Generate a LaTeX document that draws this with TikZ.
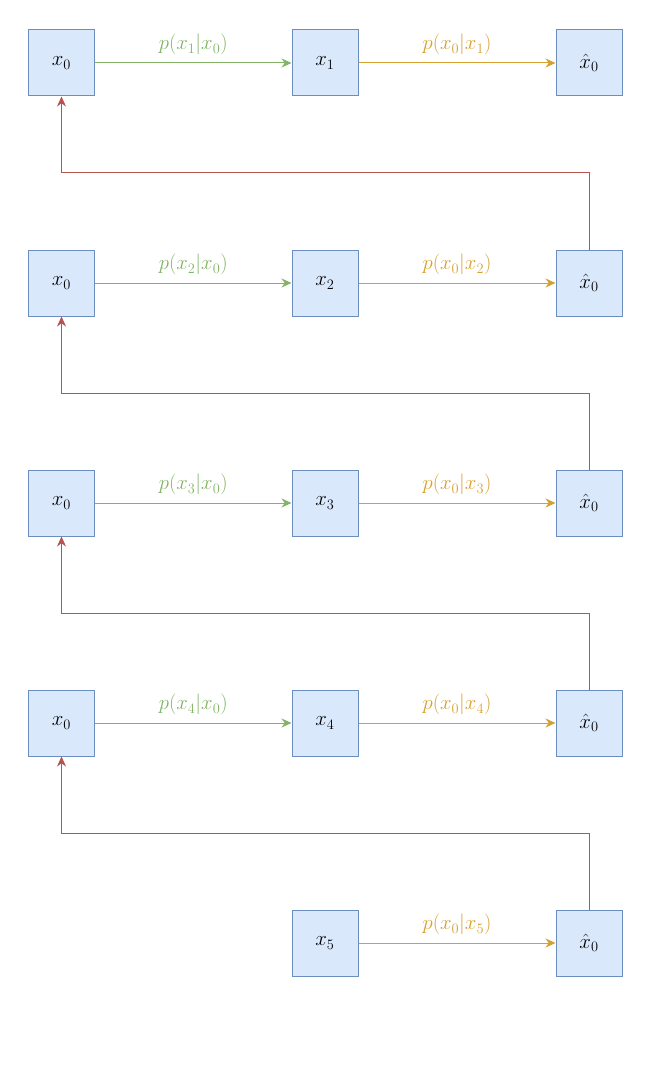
\documentclass[tikz,border=0pt]{standalone}
\usetikzlibrary{arrows.meta}
\definecolor{bfill}{HTML}{DAE8FC}
\definecolor{bdraw}{HTML}{6C8EBF}
\definecolor{gr}{HTML}{82B366}
\definecolor{yl}{HTML}{D6A030}
\definecolor{rd}{HTML}{B85450}
\begin{document}
\begin{tikzpicture}[x=1pt,y=-1pt,
 box/.style={draw=bdraw,fill=bfill,line width=1pt,minimum width=66pt,minimum height=66pt,inner sep=0pt,font=\fontsize{20}{24}\selectfont},
 arr/.style={line width=1pt,-{Stealth[length=10pt,width=9pt]}},
 lab/.style={font=\fontsize{20}{24}\selectfont,above=4pt}]
\useasboundingbox (0,0) rectangle (652,1086);
\foreach \i in {1,...,4}{
 \pgfmathsetmacro\yy{63+220*(\i-1)}
 \node[box] (a\i) at (61.5,\yy) {$x_0$};
 \node[box] (b\i) at (325,\yy) {$x_{\i}$};
 \node[box] (c\i) at (589,\yy) {$\hat{x}_0$};
 \draw[arr,gr] (a\i) -- node[lab,text=gr]{$p(x_{\i}|x_0)$} (b\i);
 \draw[arr,yl] (b\i) -- node[lab,text=yl]{$p(x_0|x_{\i})$} (c\i);
}
\node[box] (b5) at (325,943) {$x_5$};
\node[box] (c5) at (589,943) {$\hat{x}_0$};
\draw[arr,yl] (b5) -- node[lab,text=yl]{$p(x_0|x_5)$} (c5);
\foreach \i/\j in {1/2,2/3,3/4,4/5}{
 \pgfmathsetmacro\ym{63+220*(\i-1)+110}
 \draw[arr,rd] (c\j.north) -- (589,\ym) -- (61.5,\ym) -- (a\i.south);
}
\end{tikzpicture}
\end{document}
